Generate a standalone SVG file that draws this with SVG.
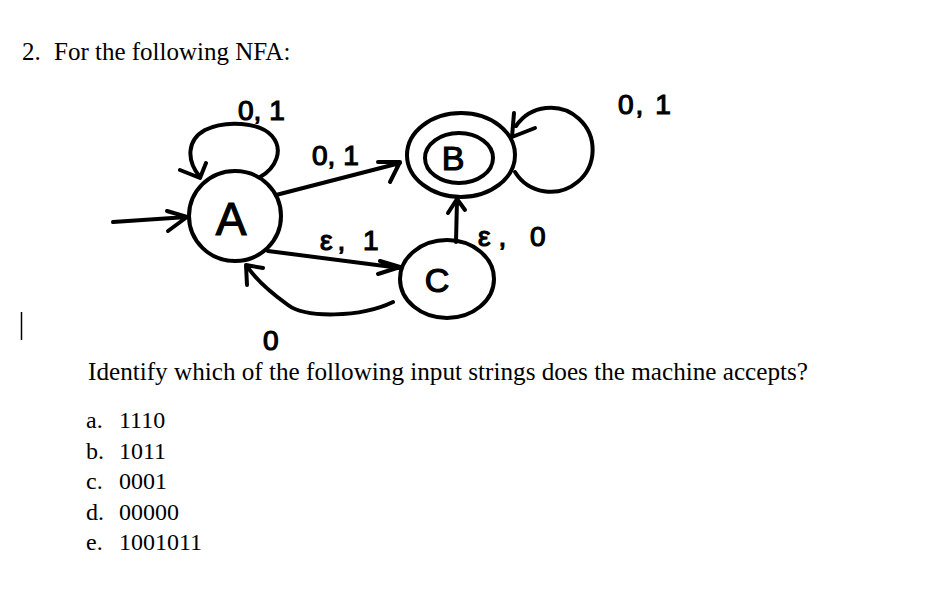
<svg xmlns="http://www.w3.org/2000/svg" width="939" height="590" viewBox="0 0 939 590">
<style>
.doc{font-family:"Liberation Serif","Times New Roman",serif;fill:#000}
.st{fill:none;stroke:#000;stroke-width:4;stroke-linecap:round;stroke-linejoin:round}
.hand{font-family:"Liberation Sans",Arial,sans-serif;font-size:28px;fill:#000;stroke:#000;stroke-width:1.2}
.lbl{font-family:"Liberation Sans",Arial,sans-serif;fill:#000;stroke:#000;stroke-width:1.2;text-anchor:middle}
</style>
<rect width="939" height="590" fill="#fff"/>
<text class="doc" x="22" y="60" font-size="25">2.</text>
<text class="doc" x="54" y="60" font-size="25">For the following NFA:</text>

<g id="connectors">
  <!-- start arrow -->
  <path class="st" d="M113,222 L187,217 M167,211 L187,217 L168,231"/>
  <!-- A self loop -->
  <path class="st" d="M260,177 C276,168 284,150 272,136 C260,122 225,120 205,130 C187,140 186,160 200,177 M180,170 L200,178 L206,163"/>
  <!-- A to B -->
  <path class="st" d="M276,195 L400,163 M378,162 L400,162 L390,182"/>
  <!-- A to C -->
  <path class="st" d="M268,251 L400,268 M380,261 L400,267 L378,274"/>
  <!-- C to A -->
  <path class="st" d="M393,302 C360,318 305,318 288,305 C270,292 256,280 247,266 M247,285 L246,265 L263,268"/>
  <!-- C to B -->
  <path class="st" d="M456,242 L457,200 M448,213 L457,199 L465,210"/>
  <!-- B self loop -->
  <path class="st" d="M515,172 A42,42 0 1 0 516,126 M514,113 L512,137 L535,128"/>
</g>

<g id="edge-labels">
  <text class="hand" x="238" y="120">0, 1</text>
  <text class="hand" x="312" y="165">0, 1</text>
  <text class="hand" x="320" y="250" letter-spacing="5">ε, 1</text>
  <text class="hand" x="478" y="246" letter-spacing="8">ε, 0</text>
  <text class="hand" x="618" y="114" letter-spacing="2">0, 1</text>
  <text class="hand" x="263" y="350">0</text>
</g>

<g id="node-A">
  <ellipse class="st" cx="235" cy="216" rx="46" ry="45"/>
  <text class="lbl" x="231" y="235" font-size="46">A</text>
</g>
<g id="node-B">
  <ellipse class="st" cx="461" cy="155" rx="54" ry="42"/>
  <ellipse class="st" cx="459" cy="158" rx="34" ry="25"/>
  <text class="lbl" x="453" y="170" font-size="34">B</text>
</g>
<g id="node-C">
  <ellipse class="st" cx="447" cy="279" rx="47" ry="39"/>
  <text class="lbl" x="437" y="292" font-size="34">C</text>
</g>

<line x1="21.5" y1="312" x2="21.5" y2="340" stroke="#000" stroke-width="1.5"/>

<text class="doc" x="88" y="380" font-size="25" textLength="720" lengthAdjust="spacingAndGlyphs">Identify which of the following input strings does the machine accepts?</text>
<g class="doc" font-size="24">
  <text x="86" y="428">a.</text><text x="119" y="428">1110</text>
  <text x="86" y="459">b.</text><text x="119" y="459">1011</text>
  <text x="86" y="489">c.</text><text x="119" y="489">0001</text>
  <text x="86" y="520">d.</text><text x="119" y="520">00000</text>
  <text x="86" y="550">e.</text><text x="119" y="550">1001011</text>
</g>
</svg>
